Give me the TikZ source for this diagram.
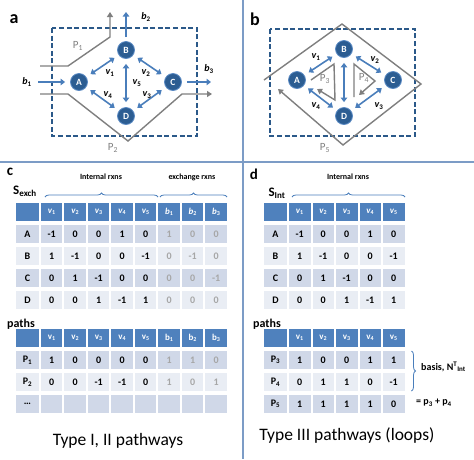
\documentclass[tikz,border=0pt]{standalone}
\usepackage{fontspec}
\setmainfont{Carlito}
\usetikzlibrary{matrix,positioning,calc,decorations.pathreplacing,arrows.meta}
\definecolor{metfill}{HTML}{2C5D92}
\definecolor{metedge}{HTML}{5B8AC4}
\definecolor{rxnblue}{HTML}{4A7EBB}
\definecolor{boxblue}{HTML}{2B5989}
\definecolor{pathgray}{HTML}{7F7F7F}
\definecolor{hdblue}{HTML}{4F81BD}
\definecolor{rowA}{HTML}{D0D8E8}
\definecolor{rowB}{HTML}{E9EDF4}
\definecolor{bgray}{HTML}{A6A6A6}
\definecolor{divblue}{HTML}{7C9CC6}
\newcommand{\fl}[1]{\textit{v}\textsubscript{#1}}
\newcommand{\bl}[1]{\textit{b}\textsubscript{#1}}
\tikzset{met/.style={circle,draw=metedge,fill=metfill,line width=0.8pt,minimum size=17pt,inner sep=0pt,text=white,font=\fontsize{9.5}{10}\selectfont\bfseries},
  rxn/.style={draw=rxnblue,line width=1.6pt,{Triangle[length=4.5pt,width=6.5pt]}-{Triangle[length=4.5pt,width=6.5pt]},shorten >=5pt,shorten <=5pt},
  exch/.style={draw=rxnblue,line width=1.6pt,-{Triangle[length=4.5pt,width=6.5pt]}},
  pth/.style={draw=pathgray,line width=1.4pt,-{Triangle[length=5pt,width=6pt]}},
  cellbox/.style={draw=boxblue,line width=1.6pt,dash pattern=on 5pt off 2.6pt},
  flab/.style={font=\fontsize{10}{11}\selectfont\bfseries,inner sep=0pt},
  plab/.style={font=\fontsize{11}{12}\selectfont,text=pathgray,inner sep=0pt},
  tag/.style={font=\fontsize{18}{20}\selectfont\bfseries,inner sep=0pt},
  small tag/.style={font=\fontsize{15}{17}\selectfont\bfseries,inner sep=0pt},
  hdr/.style={font=\fontsize{8}{9}\selectfont\bfseries,inner sep=0pt},
  brc/.style={draw=rxnblue,line width=0.8pt,decorate,decoration={brace,amplitude=4pt}},
  divl/.style={draw=divblue,line width=1.5pt},
  title/.style={font=\fontsize{17.5}{20}\selectfont,inner sep=0pt},
  note/.style={font=\fontsize{10}{11}\selectfont\bfseries,anchor=west,inner sep=0pt},
  tab/.style={matrix of nodes,nodes in empty cells,anchor=north west,inner sep=0pt,outer sep=0pt,column sep=2pt,row sep=4pt,
    nodes={fill=rowB,minimum width=21.5pt,minimum height=18pt,inner sep=0pt,outer sep=0pt,font=\fontsize{10}{11}\selectfont\bfseries,anchor=center},
    column 1/.style={nodes={minimum width=23pt}},
    every even row/.style={nodes={fill=rowA}},
    row 1/.style={nodes={fill=hdblue,text=white,font=\fontsize{9}{10}\selectfont\bfseries}}}}
\begin{document}
\begin{tikzpicture}[x=1pt,y=-1pt]
  \useasboundingbox (0,0) rectangle (474,459);

  % panel dividers
  \draw[divl] (243,0) -- (243,459);
  \draw[divl] (0,162) -- (474,162);

  % (a) network with exchange fluxes
  \node[tag] (la) at (14,19) {a};
  \draw[cellbox] (52,28) rectangle (197,136);
  \draw[pth] (40,66) -- (68,66) -- (110,37) -- (110,12);
  \draw[pth] (40,94) -- (68,94) -- (128,141) -- (182,94) -- (212,94);
  \node[plab] (p1) at (78,46) {P\textsubscript{1}};
  \node[plab] (p2) at (113,148) {P\textsubscript{2}};
  \node[met] (A) at (79,82) {A};
  \node[met] (B) at (126,50) {B};
  \node[met] (C) at (173,82) {C};
  \node[met] (D) at (126,116) {D};
  \foreach \s/\t in {A/B, B/C, A/D, D/C, B/D}
    \draw[rxn] (\s) -- (\t);
  \coordinate (b1in) at (38,82);
  \coordinate (b2out) at (126,12);
  \coordinate (b3out) at (211,82);
  \draw[exch,shorten >=5pt] (b1in) -- (A);
  \draw[exch,shorten <=4pt] (B) -- (b2out);
  \draw[exch,shorten <=5pt] (C) -- (b3out);
  \node[flab] (lb1) at (27,82) {\bl{1}};
  \node[flab] (lb2) at (146,17) {\bl{2}};
  \node[flab] (lb3) at (209,69) {\bl{3}};
  \node[flab] (lv1) at (110,73) {\fl{1}};
  \node[flab] (lv2) at (146,73) {\fl{2}};
  \node[flab] (lv5) at (137,83) {\fl{5}};
  \node[flab] (lv4) at (108,95) {\fl{4}};
  \node[flab] (lv3) at (147,95) {\fl{3}};

  % (b) internal loops
  \node[tag] (lb) at (255,19) {b};
  \draw[cellbox] (270,29) rectangle (415,136);
  \draw[pth] (264,80) -- (342,24) -- (421,84) -- (343,145) -- (278,89);
  \draw[pth] (311,80) -- (334,64) -- (335,100) -- (317,89);
  \draw[pth] (354,97) -- (354,64) -- (375,81) -- (359,95);
  \node[plab] (p3) at (325,79) {P\textsubscript{3}};
  \node[plab] (p4) at (364,78) {P\textsubscript{4}};
  \node[plab] (p5) at (325,148) {P\textsubscript{5}};
  \node[met] (A2) at (297,80) {A};
  \node[met] (B2) at (344,49) {B};
  \node[met] (C2) at (393,80) {C};
  \node[met] (D2) at (344,116) {D};
  \foreach \s/\t in {A2/B2, B2/C2, A2/D2, D2/C2, B2/D2}
    \draw[rxn] (\s) -- (\t);
  \node[flab] (mv1) at (316,57) {\fl{1}};
  \node[flab] (mv2) at (375,60) {\fl{2}};
  \node[flab] (mv4) at (316,106) {\fl{4}};
  \node[flab] (mv3) at (379,106) {\fl{3}};

  % (c) exchange stoichiometry + paths
  \node[small tag] (lc) at (10,172) {c};
  \node[font=\fontsize{13}{14}\selectfont\bfseries,inner sep=0pt] (sx) at (25,191) {S\textsubscript{\fontsize{9}{10}\selectfont exch}};
  \draw[brc] (45,197) -- (158,197);
  \draw[brc] (160,197) -- (227,197);
  \node[hdr] (hi) at (101,177) {Internal rxns};
  \node[hdr] (he) at (192,177) {exchange rxns};
  \matrix (Sx) [tab,column 7/.style={nodes={text=bgray}},column 8/.style={nodes={text=bgray}},column 9/.style={nodes={text=bgray}}] at (16,203) {
    & \fl{1} & \fl{2} & \fl{3} & \fl{4} & \fl{5} & \bl{1} & \bl{2} & \bl{3} \\
    A & -1 & 0 & 0 & 1 & 0 & 1 & 0 & 0 \\
    B & 1 & -1 & 0 & 0 & -1 & 0 & -1 & 0 \\
    C & 0 & 1 & -1 & 0 & 0 & 0 & 0 & -1 \\
    D & 0 & 0 & 1 & -1 & 1 & 0 & 0 & 0 \\
  };
  \node[font=\fontsize{12}{13}\selectfont\bfseries,inner sep=0pt] (px) at (21,324) {paths};
  \matrix (Px) [tab,column 7/.style={nodes={text=bgray}},column 8/.style={nodes={text=bgray}},column 9/.style={nodes={text=bgray}}] at (16,329) {
    & v\textsubscript{1} & v\textsubscript{2} & v\textsubscript{3} & v\textsubscript{4} & v\textsubscript{5} & b\textsubscript{1} & b\textsubscript{2} & b\textsubscript{3} \\
    P\textsubscript{1} & 1 & 0 & 0 & 0 & 0 & 1 & 1 & 0 \\
    P\textsubscript{2} & 0 & 0 & -1 & -1 & 0 & 1 & 0 & 1 \\
    \dots & & & & & & & & \\
  };
  \node[title] (t1) at (118,441) {Type I, II pathways};

  % (d) internal stoichiometry + loops
  \node[small tag] (ld) at (254,174) {d};
  \node[font=\fontsize{13}{14}\selectfont\bfseries,inner sep=0pt] (si) at (277,193) {S\textsubscript{\fontsize{9}{10}\selectfont Int}};
  \draw[brc] (292,197) -- (405,197);
  \node[hdr] (hd) at (348,177) {Internal rxns};
  \matrix (Si) [tab] at (264,203) {
    & \fl{1} & \fl{2} & \fl{3} & \fl{4} & \fl{5} \\
    A & -1 & 0 & 0 & 1 & 0 \\
    B & 1 & -1 & 0 & 0 & -1 \\
    C & 0 & 1 & -1 & 0 & 0 \\
    D & 0 & 0 & 1 & -1 & 1 \\
  };
  \node[font=\fontsize{12}{13}\selectfont\bfseries,inner sep=0pt] (pi) at (267,324) {paths};
  \matrix (Pi) [tab] at (264,329) {
    & v\textsubscript{1} & v\textsubscript{2} & v\textsubscript{3} & v\textsubscript{4} & v\textsubscript{5} \\
    P\textsubscript{3} & 1 & 0 & 0 & 1 & 1 \\
    P\textsubscript{4} & 0 & 1 & 1 & 0 & -1 \\
    P\textsubscript{5} & 1 & 1 & 1 & 1 & 0 \\
  };
  \draw[brc] (Pi-2-6.north east) ++(7,0) coordinate (bt) -- (bt |- Pi-3-6.south east);
  \node[note] (nb) at (421,367) {basis, N\textsuperscript{T}\textsubscript{Int}};
  \node[note] (ns) at (416,403) {= p\textsubscript{3} + p\textsubscript{4}};
  \node[title] (t2) at (347,436) {Type III pathways (loops)};
\end{tikzpicture}
\end{document}
